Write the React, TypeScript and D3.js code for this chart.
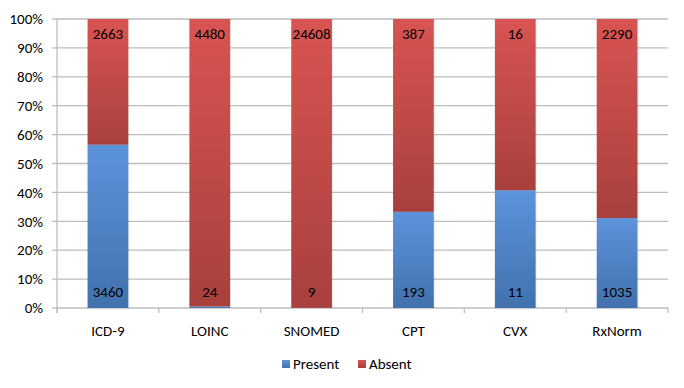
import React, { useEffect, useRef } from "react";
import * as d3 from "d3";

const categories = ["ICD-9", "LOINC", "SNOMED", "CPT", "CVX", "RxNorm"];
const present = [3460, 24, 9, 193, 11, 1035];
const absent = [2663, 4480, 24608, 387, 16, 2290];
const yTicks = [0, 0.1, 0.2, 0.3, 0.4, 0.5, 0.6, 0.7, 0.8, 0.9, 1];

const W = 684;
const H = 388;
const font = "Carlito, Lato, 'Open Sans', sans-serif";
const fs = 15;

export default function App() {
  const ref = useRef<SVGSVGElement>(null);

  useEffect(() => {
    const svg = d3.select(ref.current);
    svg.selectAll("*").remove();

    const left = 57, right = 668, top = 19, bottom = 308;
    const x = d3.scaleBand().domain(categories).range([left, right]).paddingInner(0.6).paddingOuter(0.3);
    const y = d3.scaleLinear().domain([0, 1]).range([bottom, top]);

    const defs = svg.append("defs");
    const grad = (id: string, c1: string, c2: string) => {
      const g = defs.append("linearGradient").attr("id", id).attr("x1", 0).attr("y1", 0).attr("x2", 0).attr("y2", 1);
      g.append("stop").attr("offset", "0%").attr("stop-color", c1);
      g.append("stop").attr("offset", "100%").attr("stop-color", c2);
    };
    grad("gBlue", "#5d93db", "#4271ae");
    grad("gRed", "#d85452", "#a8403e");

    // gridlines
    svg.append("g").selectAll("line").data(yTicks.slice(1)).enter().append("line")
      .attr("x1", left).attr("x2", right)
      .attr("y1", d => y(d)).attr("y2", d => y(d))
      .attr("stroke", "#bdbdbd").attr("stroke-width", 1.3);

    // axes lines
    svg.append("line").attr("x1", left).attr("x2", left).attr("y1", top).attr("y2", bottom + 5)
      .attr("stroke", "#bdbdbd").attr("stroke-width", 1.3);
    svg.append("line").attr("x1", left).attr("x2", right).attr("y1", bottom).attr("y2", bottom)
      .attr("stroke", "#bdbdbd").attr("stroke-width", 1.3);
    const step = (right - left) / categories.length;
    svg.append("g").selectAll("line").data(d3.range(categories.length + 1)).enter().append("line")
      .attr("x1", i => left + i * step).attr("x2", i => left + i * step)
      .attr("y1", bottom).attr("y2", bottom + 5)
      .attr("stroke", "#bdbdbd").attr("stroke-width", 1.3);
    svg.append("g").selectAll("line").data(yTicks).enter().append("line")
      .attr("x1", left - 5).attr("x2", left)
      .attr("y1", d => y(d)).attr("y2", d => y(d))
      .attr("stroke", "#bdbdbd").attr("stroke-width", 1.3);

    // y labels
    svg.append("g").selectAll("text").data(yTicks).enter().append("text")
      .attr("x", 43).attr("y", d => y(d)).attr("dy", "0.35em")
      .attr("text-anchor", "end").attr("font-family", font).attr("font-size", fs)
      .text(d => `${Math.round(d * 100)}%`);

    const data = categories.map((c, i) => {
      const tot = present[i] + absent[i];
      return { c, p: present[i], a: absent[i], fp: present[i] / tot };
    });

    const bars = svg.append("g").selectAll("g").data(data).enter().append("g");
    bars.append("rect")
      .attr("x", d => x(d.c)! + 1).attr("width", x.bandwidth())
      .attr("y", top).attr("height", bottom - top)
      .attr("fill", "#000").attr("opacity", 0.08);
    bars.append("rect")
      .attr("x", d => x(d.c)!).attr("width", x.bandwidth())
      .attr("y", d => y(d.fp)).attr("height", d => Math.max(0, bottom - y(d.fp)))
      .attr("fill", "url(#gBlue)");
    bars.append("rect")
      .attr("x", d => x(d.c)!).attr("width", x.bandwidth())
      .attr("y", top).attr("height", d => y(d.fp) - top)
      .attr("fill", "url(#gRed)");

    bars.append("text")
      .attr("x", d => x(d.c)! + x.bandwidth() / 2).attr("y", top + 20)
      .attr("text-anchor", "middle").attr("font-family", font).attr("font-size", fs)
      .text(d => d.a);
    bars.append("text")
      .attr("x", d => x(d.c)! + x.bandwidth() / 2).attr("y", bottom - 11)
      .attr("text-anchor", "middle").attr("font-family", font).attr("font-size", fs)
      .text(d => d.p);

    // x labels
    svg.append("g").selectAll("text").data(categories).enter().append("text")
      .attr("x", d => x(d)! + x.bandwidth() / 2).attr("y", 336)
      .attr("text-anchor", "middle").attr("font-family", font).attr("font-size", fs)
      .text(d => d);

    // legend
    const legend = [{ n: "Present", f: "url(#gBlue)" }, { n: "Absent", f: "url(#gRed)" }];
    const lx = [282, 358];
    const lg = svg.append("g").selectAll("g").data(legend).enter().append("g")
      .attr("transform", (d, i) => `translate(${lx[i]},360)`);
    lg.append("rect").attr("width", 8).attr("height", 8).attr("fill", d => d.f);
    lg.append("text").attr("x", 11).attr("y", 4).attr("dy", "0.35em")
      .attr("font-family", font).attr("font-size", fs).text(d => d.n);
  }, []);

  return (
    <svg ref={ref} width={W} height={H} style={{ position: "absolute", left: 0, top: 0, background: "#fff" }} />
  );
}
